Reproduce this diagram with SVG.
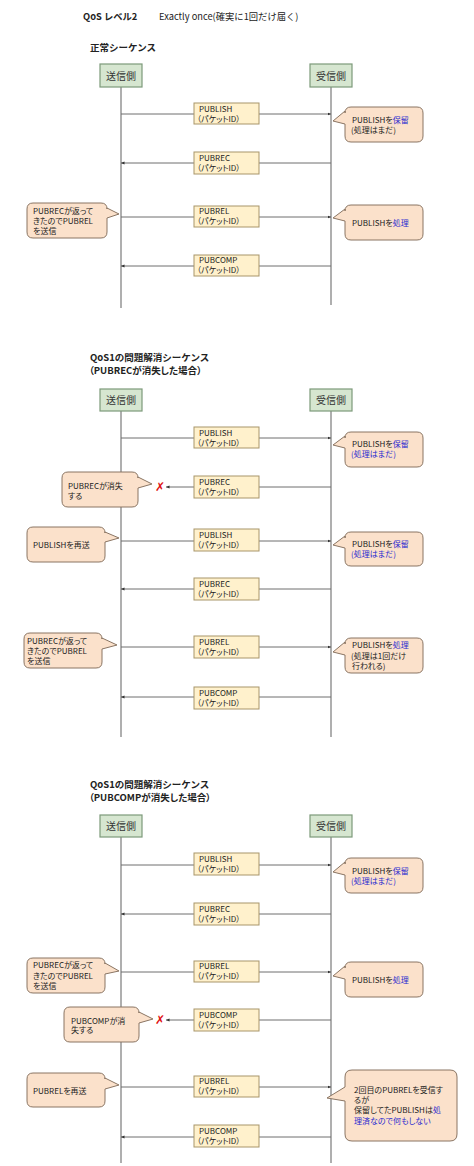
<svg xmlns="http://www.w3.org/2000/svg" width="474" height="1166" viewBox="0 0 474 1166">
<style>
text{font-family:"Noto Sans CJK JP","Noto Sans",sans-serif;fill:#222}
.t{font-size:9.3px}
.tb{font-size:9.3px;font-weight:bold}
.h{font-size:9.5px;font-weight:bold}
.hp{font-size:9.5px;font-weight:bold;font-feature-settings:"palt"}
.s{font-size:8px;font-feature-settings:"palt"}
.ll{font-size:10px;text-anchor:middle;fill:#333}
.blue{fill:#2a2ad0}
.life{stroke:#7a7a7a;stroke-width:1.2;fill:none}
.msg{stroke:#6e6e6e;stroke-width:1;fill:none}
.lbox{fill:#d6e6d0;stroke:#7c9a7a;stroke-width:1.2}
.mbox{fill:#fff1cc;stroke:#a8956a;stroke-width:1}
.call{fill:#fbe1cb;stroke:#8a7563;stroke-width:1}
.x{font-family:"DejaVu Sans",sans-serif;font-size:12px;fill:#e01010;text-anchor:middle}
</style>
<defs>
<marker id="ah" markerUnits="userSpaceOnUse" markerWidth="4" markerHeight="4" refX="3.5" refY="2" orient="auto">
<path d="M0,0.5 L3.5,2 L0,3.5 Z" fill="#333"/>
</marker>
</defs>
<rect width="474" height="1166" fill="#fff"/>

<g id="titles">
<text class="tb" x="83" y="20">QoS レベル2</text>
<text class="t" x="159" y="20">Exactly once(確実に1回だけ届く)</text>
<text class="h" x="90" y="51">正常シーケンス</text>
<text class="h" x="90" y="361">QoS1の問題解消シーケンス</text>
<text class="hp" x="89" y="374">（PUBRECが消失した場合）</text>
<text class="h" x="90" y="788">QoS1の問題解消シーケンス</text>
<text class="hp" x="89" y="801">（PUBCOMPが消失した場合）</text>
</g>

<g id="lifelines">
<line class="life" x1="121" y1="87" x2="121" y2="308"/>
<line class="life" x1="331" y1="87" x2="331" y2="305"/>
<line class="life" x1="121" y1="411" x2="121" y2="737"/>
<line class="life" x1="331" y1="411" x2="331" y2="737"/>
<line class="life" x1="121" y1="837" x2="121" y2="1163"/>
<line class="life" x1="331" y1="837" x2="331" y2="1163"/>
</g>

<g id="connectors">
<line class="msg" x1="121" y1="114" x2="331" y2="114" marker-end="url(#ah)"/>
<line class="msg" x1="331" y1="163" x2="121" y2="163" marker-end="url(#ah)"/>
<line class="msg" x1="121" y1="217" x2="331" y2="217" marker-end="url(#ah)"/>
<line class="msg" x1="331" y1="266" x2="121" y2="266" marker-end="url(#ah)"/>

<line class="msg" x1="121" y1="438" x2="331" y2="438" marker-end="url(#ah)"/>
<line class="msg" x1="331" y1="487" x2="166" y2="487" marker-end="url(#ah)"/>
<line class="msg" x1="121" y1="541" x2="331" y2="541" marker-end="url(#ah)"/>
<line class="msg" x1="331" y1="589" x2="121" y2="589" marker-end="url(#ah)"/>
<line class="msg" x1="121" y1="647" x2="331" y2="647" marker-end="url(#ah)"/>
<line class="msg" x1="331" y1="697" x2="121" y2="697" marker-end="url(#ah)"/>

<line class="msg" x1="121" y1="865" x2="331" y2="865" marker-end="url(#ah)"/>
<line class="msg" x1="331" y1="914" x2="121" y2="914" marker-end="url(#ah)"/>
<line class="msg" x1="121" y1="972" x2="331" y2="972" marker-end="url(#ah)"/>
<line class="msg" x1="331" y1="1020" x2="166" y2="1020" marker-end="url(#ah)"/>
<line class="msg" x1="121" y1="1087" x2="331" y2="1087" marker-end="url(#ah)"/>
<line class="msg" x1="331" y1="1137" x2="121" y2="1137" marker-end="url(#ah)"/>
</g>

<!-- Section 1 -->
<g id="s1-sender"><rect class="lbox" x="100" y="64" width="42" height="23"/><text class="ll" x="121" y="80">送信側</text></g>
<g id="s1-receiver"><rect class="lbox" x="310" y="64" width="42" height="23"/><text class="ll" x="331" y="80">受信側</text></g>
<g id="s1-m1"><rect class="mbox" x="194" y="103" width="65" height="21"/><text class="s" x="199" y="112">PUBLISH</text><text class="s" x="197" y="122">（パケットID）</text></g>
<g id="s1-m2"><rect class="mbox" x="194" y="152" width="65" height="22"/><text class="s" x="199" y="161">PUBREC</text><text class="s" x="197" y="171">（パケットID）</text></g>
<g id="s1-m3"><rect class="mbox" x="194" y="206" width="65" height="21"/><text class="s" x="199" y="214">PUBREL</text><text class="s" x="197" y="224">（パケットID）</text></g>
<g id="s1-m4"><rect class="mbox" x="194" y="255" width="65" height="21"/><text class="s" x="199" y="263">PUBCOMP</text><text class="s" x="197" y="273">（パケットID）</text></g>
<g id="s1-c1"><path class="call" d="M351,107 H417 Q423,107 423,113 V136 Q423,142 417,142 H351 Q345,142 345,136 V124 L333,121 L345,111 V113 Q345,107 351,107 Z"/><text class="s" x="352" y="123">PUBLISHを<tspan class="blue">保留</tspan></text><text class="s" x="351" y="133">(処理はまだ)</text></g>
<g id="s1-c2"><path class="call" d="M33,203 H101 Q107,203 107,209 V208 L119,214 L107,218 V232 Q107,238 101,238 H33 Q27,238 27,232 V209 Q27,203 33,203 Z"/><text class="s" x="33" y="214">PUBRECが返って</text><text class="s" x="33" y="224">きたのでPUBREL</text><text class="s" x="33" y="234">を送信</text></g>
<g id="s1-c3"><path class="call" d="M351,205 H417 Q423,205 423,211 V234 Q423,240 417,240 H351 Q345,240 345,234 V221 L333,218 L345,209 V211 Q345,205 351,205 Z"/><text class="s" x="352" y="226">PUBLISHを<tspan class="blue">処理</tspan></text></g>

<!-- Section 2 -->
<g id="s2-sender"><rect class="lbox" x="100" y="389" width="42" height="22"/><text class="ll" x="121" y="404">送信側</text></g>
<g id="s2-receiver"><rect class="lbox" x="310" y="389" width="42" height="22"/><text class="ll" x="331" y="404">受信側</text></g>
<g id="s2-m1"><rect class="mbox" x="194" y="427" width="65" height="21"/><text class="s" x="199" y="436">PUBLISH</text><text class="s" x="197" y="446">（パケットID）</text></g>
<g id="s2-m2"><rect class="mbox" x="194" y="476" width="65" height="22"/><text class="s" x="199" y="485">PUBREC</text><text class="s" x="197" y="495">（パケットID）</text></g>
<text id="s2-x" class="x" x="160" y="491">✗</text>
<g id="s2-m3"><rect class="mbox" x="194" y="529" width="65" height="22"/><text class="s" x="199" y="538">PUBLISH</text><text class="s" x="197" y="548">（パケットID）</text></g>
<g id="s2-m4"><rect class="mbox" x="194" y="578" width="65" height="22"/><text class="s" x="199" y="587">PUBREC</text><text class="s" x="197" y="597">（パケットID）</text></g>
<g id="s2-m5"><rect class="mbox" x="194" y="636" width="65" height="22"/><text class="s" x="199" y="645">PUBREL</text><text class="s" x="197" y="655">（パケットID）</text></g>
<g id="s2-m6"><rect class="mbox" x="194" y="687" width="65" height="22"/><text class="s" x="199" y="696">PUBCOMP</text><text class="s" x="197" y="706">（パケットID）</text></g>
<g id="s2-c1"><path class="call" d="M351,432 H417 Q423,432 423,438 V461 Q423,467 417,467 H351 Q345,467 345,461 V448 L333,445 L345,436 V438 Q345,432 351,432 Z"/><text class="s" x="352" y="447">PUBLISHを<tspan class="blue">保留</tspan></text><text class="s blue" x="351" y="457">(処理はまだ)</text></g>
<g id="s2-c2"><path class="call" d="M68,472 H132 Q138,472 138,478 V477 L152,484 L138,488 V501 Q138,507 132,507 H68 Q62,507 62,501 V478 Q62,472 68,472 Z"/><text class="s" x="68" y="489">PUBRECが消失</text><text class="s" x="68" y="499">する</text></g>
<g id="s2-c3"><path class="call" d="M33,527 H99 Q105,527 105,533 V532 L119,538 L105,542 V556 Q105,562 99,562 H33 Q27,562 27,556 V533 Q27,527 33,527 Z"/><text class="s" x="33" y="548">PUBLISHを再送</text></g>
<g id="s2-c4"><path class="call" d="M351,532 H417 Q423,532 423,538 V560 Q423,566 417,566 H351 Q345,566 345,560 V548 L333,545 L345,536 V538 Q345,532 351,532 Z"/><text class="s" x="352" y="547">PUBLISHを<tspan class="blue">保留</tspan></text><text class="s blue" x="351" y="557">(処理はまだ)</text></g>
<g id="s2-c5"><path class="call" d="M30,633 H96 Q102,633 102,639 V638 L117,645 L102,649 V662 Q102,668 96,668 H30 Q24,668 24,662 V639 Q24,633 30,633 Z"/><text class="s" x="27" y="644">PUBRECが返って</text><text class="s" x="27" y="654">きたのでPUBREL</text><text class="s" x="27" y="664">を送信</text></g>
<g id="s2-c6"><path class="call" d="M351,638 H417 Q423,638 423,644 V667 Q423,673 417,673 H351 Q345,673 345,667 V655 L333,652 L345,642 V644 Q345,638 351,638 Z"/><text class="s" x="352" y="648">PUBLISHを<tspan class="blue">処理</tspan></text><text class="s" x="351" y="659">(処理は1回だけ</text><text class="s" x="352" y="669">行われる)</text></g>

<!-- Section 3 -->
<g id="s3-sender"><rect class="lbox" x="100" y="815" width="42" height="22"/><text class="ll" x="121" y="830">送信側</text></g>
<g id="s3-receiver"><rect class="lbox" x="310" y="815" width="42" height="22"/><text class="ll" x="331" y="830">受信側</text></g>
<g id="s3-m1"><rect class="mbox" x="194" y="853" width="65" height="22"/><text class="s" x="199" y="862">PUBLISH</text><text class="s" x="197" y="872">（パケットID）</text></g>
<g id="s3-m2"><rect class="mbox" x="194" y="903" width="65" height="22"/><text class="s" x="199" y="912">PUBREC</text><text class="s" x="197" y="922">（パケットID）</text></g>
<g id="s3-m3"><rect class="mbox" x="194" y="961" width="65" height="21"/><text class="s" x="199" y="969">PUBREL</text><text class="s" x="197" y="979">（パケットID）</text></g>
<g id="s3-m4"><rect class="mbox" x="194" y="1009" width="65" height="22"/><text class="s" x="199" y="1018">PUBCOMP</text><text class="s" x="197" y="1028">（パケットID）</text></g>
<text id="s3-x" class="x" x="160" y="1024">✗</text>
<g id="s3-m5"><rect class="mbox" x="194" y="1076" width="65" height="21"/><text class="s" x="199" y="1084">PUBREL</text><text class="s" x="197" y="1094">（パケットID）</text></g>
<g id="s3-m6"><rect class="mbox" x="194" y="1125" width="65" height="22"/><text class="s" x="199" y="1134">PUBCOMP</text><text class="s" x="197" y="1144">（パケットID）</text></g>
<g id="s3-c1"><path class="call" d="M351,858 H417 Q423,858 423,864 V887 Q423,893 417,893 H351 Q345,893 345,887 V875 L333,872 L345,862 V864 Q345,858 351,858 Z"/><text class="s" x="352" y="874">PUBLISHを<tspan class="blue">保留</tspan></text><text class="s blue" x="351" y="884">(処理はまだ)</text></g>
<g id="s3-c2"><path class="call" d="M33,958 H99 Q105,958 105,964 V963 L119,971 L105,974 V987 Q105,993 99,993 H33 Q27,993 27,987 V964 Q27,958 33,958 Z"/><text class="s" x="33" y="968">PUBRECが返って</text><text class="s" x="33" y="979">きたのでPUBREL</text><text class="s" x="33" y="989">を送信</text></g>
<g id="s3-c3"><path class="call" d="M351,962 H417 Q423,962 423,968 V991 Q423,997 417,997 H351 Q345,997 345,991 V979 L333,976 L345,966 V968 Q345,962 351,962 Z"/><text class="s" x="352" y="983">PUBLISHを<tspan class="blue">処理</tspan></text></g>
<g id="s3-c4"><path class="call" d="M70,1007 H133 Q139,1007 139,1013 V1012 L153,1019 L139,1023 V1036 Q139,1042 133,1042 H70 Q64,1042 64,1036 V1013 Q64,1007 70,1007 Z"/><text class="s" x="71" y="1024">PUBCOMPが消</text><text class="s" x="71" y="1033">失する</text></g>
<g id="s3-c5"><path class="call" d="M33,1073 H99 Q105,1073 105,1079 V1078 L119,1085 L105,1089 V1101 Q105,1107 99,1107 H33 Q27,1107 27,1101 V1079 Q27,1073 33,1073 Z"/><text class="s" x="33" y="1094">PUBRELを再送</text></g>
<g id="s3-c6"><path class="call" d="M352,1070 H450 Q457,1070 457,1077 V1134 Q457,1141 450,1141 H352 Q345,1141 345,1134 V1101 L327,1098 L345,1087 V1077 Q345,1070 352,1070 Z"/><text class="s" x="354" y="1093">2回目のPUBRELを受信す</text><text class="s" x="354" y="1103">るが</text><text class="s" x="354" y="1113">保留してたPUBLISHは<tspan class="blue">処</tspan></text><text class="s blue" x="354" y="1124">理済なので何もしない</text></g>
</svg>
